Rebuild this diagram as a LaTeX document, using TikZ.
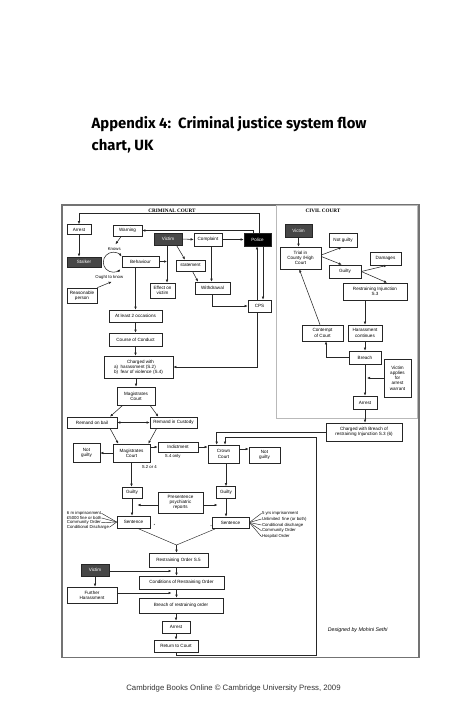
\documentclass[tikz,border=0pt]{standalone}
\usepackage{fontspec}
\setmainfont{Liberation Sans}
\newfontfamily\titlefont{Fira Sans}
\newfontfamily\headfont{Liberation Serif}
\usepackage{tikz}
\usetikzlibrary{arrows.meta,calc}
\colorlet{lineA}{black!85}
\colorlet{darkA}{black!72}
\newcommand{\chartfont}{\fontsize{4.6}{5.2}\selectfont}
\tikzset{
  box/.style={draw=lineA, line width=0.65bp, fill=white, inner sep=0.3bp, align=center, font=\chartfont},
  darkbox/.style={box, fill=darkA, text=white},
  blackbox/.style={box, fill=black, text=white},
  wh/.style 2 args={minimum width=#1bp, minimum height=#2bp},
  arr/.style={draw=lineA, line width=0.55bp, -{Latex[length=3bp,width=2.6bp]}},
  link/.style={draw=lineA, line width=0.45bp},
  note/.style={font=\fontsize{4.3}{5}\selectfont, inner sep=0.3bp},
}

\begin{document}
\begin{tikzpicture}[x=1bp, y=-1bp]
      \useasboundingbox (0,0) rectangle (474,707);

      % Title and footer
      \node[anchor=base west, inner sep=0, font={\titlefont\bfseries\fontsize{14.9}{21}\selectfont}] (title) at (91.5,129) {Appendix 4:\ \ Criminal justice system flow};
      \node[anchor=base west, inner sep=0, font={\titlefont\bfseries\fontsize{14.9}{21}\selectfont}] (title2) at (91.5,150) {chart, UK};
      \node[anchor=base, inner sep=0, text=black!80, font=\fontsize{7.8}{9}\selectfont] (footer) at (233.5,690) {Cambridge Books Online © Cambridge University Press, 2009};

      % Frames
      \draw[gray!90!black, line width=1.2bp] (62,205) rectangle (419,657.5);
      \draw[gray!55, line width=0.8bp] (276,205) rectangle (417,418.5);
      \node[font={\headfont\bfseries\fontsize{5.2}{6}\selectfont}] (crimhead) at (172,211) {CRIMINAL COURT};
      \node[font={\headfont\bfseries\fontsize{5.2}{6}\selectfont}] (civhead) at (323,211) {CIVIL COURT};

      % Criminal court: top part
      \node[box, wh={24}{10}] (arrestA) at (79,229.5) {Arrest};
      \node[box, wh={29}{11}] (warning) at (127.5,230.5) {Warning};
      \node[darkbox, wh={28}{12}] (victimA) at (168,239) {Victim};
      \node[box, wh={28}{13}] (complaint) at (208,239.5) {Complaint};
      \node[blackbox, wh={27}{13}] (police) at (257.5,239.5) {Police};
      \node[darkbox, wh={34}{10}] (stalker) at (84,262) {Stalker};
      \node[box, wh={37}{11}] (behaviour) at (140.5,261.5) {Behaviour};
      \node[box, wh={29}{11}] (statement) at (190.5,265.5) {statement};
      \node[box, wh={25}{15}] (effect) at (162.5,290.5) {Effect on\\victim};
      \node[box, wh={35}{12}] (withdrawal) at (212.5,288) {Withdrawal};
      \node[box, wh={30}{15}] (reasonable) at (82,295.5) {Reasonable\\person};
      \node[box, wh={23}{12}] (cps) at (259.5,306) {CPS};
      \node[box, wh={53}{12}] (occasions) at (135.5,316) {At least 2 occasions};
      \node[box, wh={53}{13}] (conduct) at (135.5,339.5) {Course of Conduct};
      \node[box, wh={69}{22}, align=left] (charged) at (138.5,367) {\hspace*{13bp}Charged with\\a)\ \ harassment (S.2)\\b)\ \ fear of violence (S.4)};
      \node[box, wh={38}{18}] (magA) at (136,396) {Magistrates\\Court};
      \node[box, wh={50}{11}] (bail) at (92,422.5) {Remand on bail};
      \node[box, wh={47}{11}] (custody) at (173.5,422.5) {Remand in Custody};

      % Criminal court: trial and sentence
      \node[box, wh={27}{19}] (notguiltyA) at (86.5,452.5) {Not\\guilty};
      \node[box, wh={37}{18}] (magB) at (131.5,453) {Magistrates\\Court};
      \node[box, wh={40}{10}] (indictment) at (178,447) {Indictment};
      \node[box, wh={31}{18}] (crown) at (223.5,454) {Crown\\Court};
      \node[box, wh={31}{16}] (notguiltyB) at (264.5,455) {Not\\guilty};
      \node[box, wh={20}{11}] (guiltyA) at (132,492.5) {Guilty};
      \node[box, wh={45}{21}] (reports) at (180.5,502.5) {Presentence\\psychiatric\\reports};
      \node[box, wh={19}{12}] (guiltyB) at (226,492.5) {Guilty};
      \node[box, wh={33}{12}] (sentenceA) at (133.5,522) {Sentence};
      \node[box, wh={37}{11}] (sentenceB) at (230.5,522.5) {Sentence};
      \node[note] (s4only) at (172.7,456) {S.4 only};
      \node[note] (s2or4) at (149.3,467.3) {S.2 or 4};

      % Sentence options
      \node[note, anchor=west] (smA) at (66.5,513.3) {6 m imprisonment};
      \node[note, anchor=west] (fineA) at (66.5,518.1) {£5000 fine or both};
      \node[note, anchor=west] (coA) at (66.5,522.7) {Community Order};
      \node[note, anchor=west] (cdA) at (66.5,527.3) {Conditional Discharge};
      \node[note, anchor=west] (yrsB) at (261.5,513.3) {5 yrs imprisonment};
      \node[note, anchor=west] (fineB) at (261.5,519) {Unlimited\ \ fine (or both)};
      \node[note, anchor=west] (cdB) at (261.5,525) {Conditional discharge};
      \node[note, anchor=west] (coB) at (261.5,530.7) {Community Order};
      \node[note, anchor=west] (hoB) at (261.5,536.7) {Hospital Order};
      \fill[lineA] (154.3,524.3) circle (0.5);
      \fill[lineA] (211,525.7) circle (0.5);

      % Criminal court: restraining order
      \node[box, wh={59}{14}] (restrain) at (178.5,560) {Restraining Order S.5};
      \node[darkbox, wh={28}{12}] (victimC) at (95,570) {Victim};
      \node[box, wh={85}{13}] (conditions) at (181.5,582.5) {Conditions of Restraining Order};
      \node[box, wh={50}{16}] (further) at (92,595) {Further\\Harassment};
      \node[box, wh={84}{15}] (breachA) at (181,605.5) {Breach of restraining order};
      \node[box, wh={28}{12}] (arrestC) at (176,627) {Arrest};
      \node[box, wh={44}{12}] (return) at (176,646) {Return to Court};
      \node[font=\itshape\fontsize{5.3}{6}\selectfont] (designer) at (357.7,630) {Designed by Mohini Sethi};

      % Civil court
      \node[darkbox, wh={27}{13}] (victimB) at (298.5,230.5) {Victim};
      \node[box, wh={41}{22}] (trial) at (300.5,258) {Trial in\\County /High\\Court};
      \node[box, wh={28}{14}] (notguiltyC) at (343,240) {Not guilty};
      \node[box, wh={32}{13}] (guiltyC) at (345,271.5) {Guilty};
      \node[box, wh={31}{13}] (damages) at (385.5,258.5) {Damages};
      \node[box, wh={64}{17}] (injunction) at (375,291.5) {Restraining Injunction\\S.3};
      \node[box, wh={41}{16}] (contempt) at (322.5,333) {Contempt\\of Court};
      \node[box, wh={34}{16}] (continues) at (365,333) {Harassment\\continues};
      \node[box, wh={32}{13}] (breachB) at (365,357.5) {Breach};
      \node[box, wh={27}{38}] (applies) at (397.5,378) {Victim\\applies\\for\\arrest\\warrant};
      \node[box, wh={24}{13}] (arrestB) at (365,402.5) {Arrest};
      \node[box, wh={76}{18}] (chargedB) at (364,432) {Charged with Breach of\\restraining Injunction S.3 (6)};

      % Knows / ought to know loop
      \coordinate (loopc) at (113.3,262.2);
      \draw[arr] ([shift={(180:10)}]loopc) arc[start angle=180, end angle=325, radius=10];
      \draw[arr] ([shift={(180:10)}]loopc) arc[start angle=180, end angle=45, radius=10];
      \node[note] (knows) at (114.3,249) {Knows};
      \node[note] (ought) at (109.3,277.3) {Ought to know};
      \coordinate (knowtip) at (115.5,244.3);
      \coordinate (oughttip) at (111.7,281.7);
      \draw[arr] ([xshift=8.5bp]warning.south west) -- (knowtip);
      \draw[arr] (reasonable.north east) -- (oughttip);

      % Criminal court arrows
      \draw[arr] ([xshift=1.5bp]police.north) -- ++(0,-19) -| (arrestA.north);
      \draw[arr] ([xshift=-4.5bp]police.north) |- (warning.east);
      \draw[arr] (arrestA.south) -- (arrestA.south |- stalker.north);
      \draw[arr] (victimA.east) -- (complaint.west);
      \draw[arr] (complaint.east) -- (police.west);
      \draw[arr] ([xshift=-1bp]victimA.south) -- ([xshift=-1bp]victimA.south |- effect.north);
      \draw[arr] (behaviour.east) -- ([xshift=-1bp]victimA.south |- behaviour.east);
      \draw[arr] ([xshift=8.5bp]victimA.south) -- ([xshift=-5.5bp]statement.north);
      \draw[arr] ([xshift=2bp]statement.south) -- ([xshift=-14.5bp]withdrawal.north);
      \draw[arr] ([xshift=3.5bp]complaint.south) -- ([xshift=3.5bp]complaint.south |- withdrawal.north);
      \draw[arr] (withdrawal.south) |- (cps.west);
      \draw[arr] ([xshift=-2.5bp]cps.north) -- ([xshift=-2.5bp]cps.north |- police.south);
      \draw[arr] ([xshift=3.5bp]cps.north |- police.south) -- ([xshift=3.5bp]cps.north);
      \draw[arr] ([xshift=-2.5bp]cps.south) |- (charged.east);
      \draw[arr] (occasions.north |- behaviour.south) -- (occasions.north);
      \draw[arr] (occasions.south) -- (conduct.north);
      \draw[arr] (conduct.south) -- (conduct.south |- charged.north);
      \draw[arr] (magA.north |- charged.south) -- (magA.north);
      \draw[arr] ([xshift=-13.3bp]magA.south) -- ([xshift=18bp]bail.north);
      \draw[arr] ([xshift=14bp]magA.south) -- ([xshift=-15.2bp]custody.north);
      \draw[draw=lineA, line width=0.55bp, {Latex[length=3bp,width=2.6bp]}-{Latex[length=3bp,width=2.6bp]}] (bail.east) -- (custody.west);
      \draw[arr] ([xshift=18bp]bail.south) -- ([xshift=-13.2bp]magB.north);
      \draw[arr] ([xshift=-16.8bp]custody.south) -- ([xshift=16.8bp]magB.north);
      \draw[arr] (magB.west) -- (magB.west -| notguiltyA.east);
      \draw[arr] (magB.east |- indictment.west) -- (indictment.west);
      \draw[arr] (indictment.east) -- (indictment.east -| crown.west);
      \draw[arr] ([yshift=5bp]crown.east) -- ([yshift=5bp]crown.east -| notguiltyB.west);
      \draw[arr] (magB.south) -- (magB.south |- guiltyA.north);
      \draw[arr] (guiltyB.north |- crown.south) -- (guiltyB.north);
      \draw[arr] (guiltyA.south) -- (guiltyA.south |- sentenceA.north);
      \draw[arr] (guiltyB.south) -- (guiltyB.south |- sentenceB.north);
      \coordinate (repL) at (137.5,505);
      \coordinate (repR) at (217.5,505);
      \draw[arr] (reports.west |- repL) -- (repL);
      \draw[arr] (reports.east |- repR) -- (repR);
      \foreach \t in {smA,fineA,coA,cdA}
        \draw[link] (\t.east) -- (sentenceA.west);
      \foreach \t in {yrsB,fineB,cdB,coB,hoB}
        \draw[link] (sentenceB.east) -- (\t.west);

      % Sentences to restraining order
      \coordinate (merge) at (176.5,545);
      \draw[link] ([xshift=4bp]sentenceA.south) -- (merge) -- ([xshift=-14bp]sentenceB.south);
      \draw[arr] (merge) -- (merge |- restrain.north);
      \draw[arr] (merge |- restrain.south) -- (merge |- conditions.north);
      \coordinate (vtipA) at (171.5,571);
      \coordinate (vtipB) at (171.5,593);
      \draw[arr] (victimC.east |- vtipA) -- (vtipA);
      \draw[arr] (further.east |- vtipB) -- (vtipB);
      \draw[arr] (victimC.south) -- (victimC.south |- further.north);
      \draw[arr] (merge |- conditions.south) -- (merge |- breachA.north);
      \draw[arr] (arrestC.north |- breachA.south) -- (arrestC.north);
      \draw[arr] (arrestC.south) -- (return.north);
      \coordinate (loopA) at (316,655);
      \coordinate (loopB) at (316,437);
      \draw[arr] (return.south) |- (loopA) -- (loopB) -| ([xshift=1.5bp]crown.north);
      \draw[arr] (chargedB.west) -| ([xshift=-6.8bp]crown.north);

      % Civil court arrows
      \draw[arr] (victimB.south) -- (victimB.south |- trial.north);
      \draw[arr] ([yshift=3bp]trial.east) -- ([xshift=-1.3bp]notguiltyC.south);
      \draw[arr] ([yshift=1.5bp]trial.east) -- ([xshift=-3.3bp]guiltyC.north);
      \draw[arr] (guiltyC.east) -- ([xshift=1.5bp]damages.south);
      \draw[arr] (guiltyC.east) -- ([xshift=12bp]injunction.north);
      \draw[arr] (continues.north |- injunction.south) -- (continues.north);
      \draw[arr] (continues.south) -- (breachB.north);
      \draw[arr] (breachB.west) -| ([xshift=3.5bp]contempt.south);
      \draw[arr] ([xshift=-2.5bp]contempt.north) -- ([xshift=-1.2bp]trial.south);
      \draw[arr] (breachB.south) -- (arrestB.north);
      \coordinate (aptip) at ([xshift=2bp]breachB.south |- applies.west);
      \draw[arr] (applies.west) -- (aptip);
      \draw[arr] (arrestB.south) -- (arrestB.south |- chargedB.north);
\end{tikzpicture}
\end{document}
